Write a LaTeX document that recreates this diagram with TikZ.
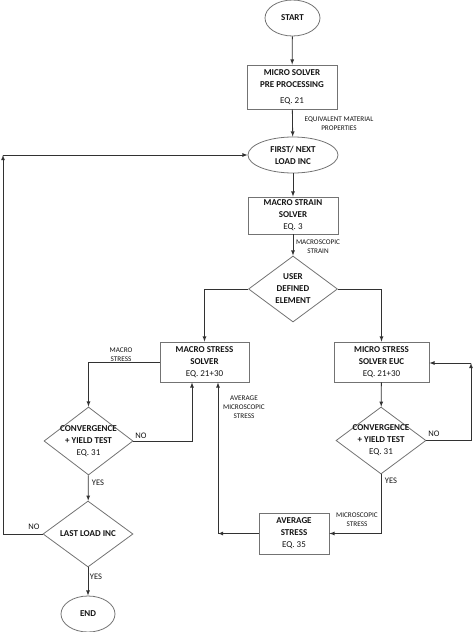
\documentclass[tikz,border=0pt]{standalone}
\usepackage{fontspec}
\setmainfont{Carlito}
\usetikzlibrary{shapes.geometric}
\definecolor{lineGray}{RGB}{50,50,50}
\definecolor{boxGray}{RGB}{115,115,115}
\definecolor{textDark}{RGB}{20,20,20}

\begin{document}
\begin{tikzpicture}[x=1pt,y=-1pt,
  proc/.style={rectangle,draw=boxGray,line width=0.8pt,align=center,inner sep=1pt,text=textDark,font=\fontsize{9}{12}\selectfont\bfseries},
  term/.style={ellipse,draw=boxGray,line width=0.8pt,align=center,inner sep=0pt,minimum height=36pt,text=textDark,font=\fontsize{9}{12}\selectfont\bfseries},
  decide/.style={diamond,draw=boxGray,line width=0.8pt,align=center,inner sep=-6pt,text=textDark,font=\fontsize{9}{12}\selectfont\bfseries},
  flow/.style={draw=lineGray,line width=0.8pt,-latex},
  note/.style={align=center,text=textDark,inner sep=0pt,font=\fontsize{7.2}{9}\selectfont},
  answer/.style={text=textDark,inner sep=0pt,font=\fontsize{8.5}{10}\selectfont}]
\useasboundingbox (0,0) rectangle (474,632);

% main column
\node[term,minimum width=55pt] (start) at (292.5,18) {START};
\node[proc,minimum width=90pt,minimum height=44pt] (pre) at (292,87) {MICRO SOLVER\\PRE PROCESSING\\[4pt]{\mdseries EQ. 21}};
\node[term,minimum width=90pt] (next) at (293,155) {FIRST/ NEXT\\LOAD INC};
\node[proc,minimum width=90pt,minimum height=37pt] (mstrain) at (293,215.5) {MACRO STRAIN\\SOLVER\\{\mdseries EQ. 3}};
\node[decide,minimum width=89pt,minimum height=66pt] (udef) at (293,289) {USER\\DEFINED\\ELEMENT};

% macro side
\node[proc,minimum width=89pt,minimum height=40pt] (mastress) at (204.5,362) {MACRO STRESS\\SOLVER\\{\mdseries EQ. 21+30}};
\node[decide,minimum width=89pt,minimum height=68pt] (conva) at (88.5,441) {CONVERGENCE\\+ YIELD TEST\\{\mdseries EQ. 31}};
\node[decide,minimum width=90pt,minimum height=66pt] (lastinc) at (88,534) {LAST LOAD INC};
\node[term,minimum width=54pt] (end) at (88,614) {END};

% micro side
\node[proc,minimum width=95pt,minimum height=40pt] (mistress) at (381.5,362) {MICRO STRESS\\SOLVER EUC\\{\mdseries EQ. 21+30}};
\node[decide,minimum width=90pt,minimum height=67pt] (convb) at (381,440.5) {CONVERGENCE\\+ YIELD TEST\\{\mdseries EQ. 31}};
\node[proc,minimum width=70pt,minimum height=41pt] (avg) at (294,533.5) {AVERAGE\\STRESS\\{\mdseries EQ. 35}};

\coordinate (loopc) at (3,155);
\coordinate (retc) at (471,363);
\coordinate (avgc) at (218,533.5);

\draw[flow] (start) -- (pre);
\draw[flow] (pre) -- (next);
\draw[flow] (next) -- (mstrain);
\draw[flow] (mstrain) -- (udef);
\draw[flow] (udef.west) -| (mastress.north);
\draw[flow] (udef.east) -| (mistress.north);
\draw[flow] (mastress.west) -| (conva.north);
\draw[flow] (conva.east) -| ([xshift=-12.5pt]mastress.south);
\draw[flow] (conva) -- (lastinc);
\draw[flow] (lastinc) -- (end);
\draw[flow] (lastinc.west) -| (loopc);
\draw[flow] (loopc) -- (next.west);
\draw[flow] (mistress) -- (convb);
\draw[flow] (convb.east) -| (retc);
\draw[flow] (retc) -- (mistress.east |- retc);
\draw[flow] (convb.south) |- (avg.east);
\draw[flow] (avg.west) -- (avgc);
\draw[flow] (avgc) -- ([xshift=13.5pt]mastress.south);

% labels
\node[note] (eqmat) at (339,123.5) {EQUIVALENT MATERIAL\\PROPERTIES};
\node[note] (mstrainlbl) at (318,246.5) {MACROSCOPIC\\STRAIN};
\node[note] (mstresslbl) at (121,354.5) {MACRO\\STRESS};
\node[note] (avgmicro) at (244,407) {AVERAGE\\MICROSCOPIC\\STRESS};
\node[note] (microlbl) at (357,519.5) {MICROSCOPIC\\STRESS};
\node[answer] (noa) at (141,436) {NO};
\node[answer] (nob) at (434,434) {NO};
\node[answer] (noc) at (34,527) {NO};
\node[answer] (yesa) at (98,483) {YES};
\node[answer] (yesb) at (391,481) {YES};
\node[answer] (yesc) at (96,577) {YES};
\end{tikzpicture}
\end{document}
